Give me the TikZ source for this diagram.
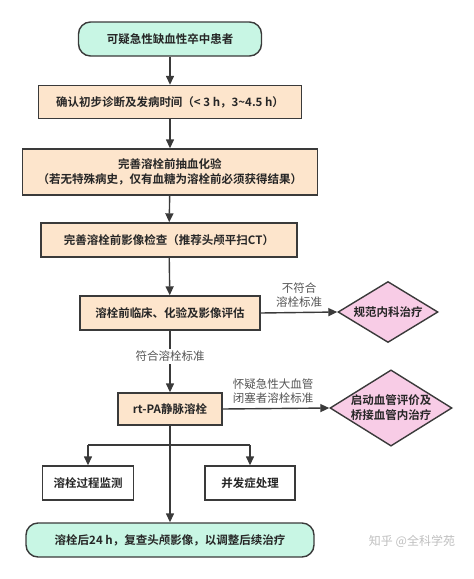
\documentclass[tikz,border=0pt]{standalone}
\usepackage{fontspec}
\setmainfont{Noto Sans CJK SC}
\newfontfamily\cjkb{Noto Sans CJK SC Bold}
\usetikzlibrary{shapes.geometric,arrows.meta}
\definecolor{peach}{HTML}{FDE5CC}
\definecolor{mint}{HTML}{C8F6E4}
\definecolor{pinkd}{HTML}{F8CCE6}
\definecolor{edgec}{HTML}{3A3A3A}
\definecolor{lblc}{HTML}{555555}
\begin{document}
\begin{tikzpicture}[x=1pt,y=-1pt,
  base/.style={draw=edgec,line width=1.4pt,font=\cjkb\fontsize{11.5}{15}\selectfont,text=black!85,align=center,inner sep=0pt},
  startbox/.style={base,fill=mint,rounded corners=12pt},
  procbox/.style={base,fill=peach},
  whitebox/.style={base,fill=white},
  decide/.style={base,fill=pinkd,diamond,aspect=1.6},
  arr/.style={draw=edgec,line width=1.4pt,-{Triangle[length=9pt,width=8pt]}},
  plain/.style={draw=edgec,line width=1.4pt},
  lbl/.style={font=\fontsize{11.5}{14}\selectfont,text=lblc,align=center,inner sep=1pt}]
\useasboundingbox (0,0) rectangle (474,579);
\node[startbox,minimum width=183pt,minimum height=34pt] (n1) at (170,39) {可疑急性缺血性卒中患者};
\node[procbox,minimum width=263pt,minimum height=33pt] (n2) at (170,102) {确认初步诊断及发病时间（< 3 h，3\textasciitilde4.5 h）};
\node[procbox,minimum width=295pt,minimum height=46pt] (n3) at (170,172) {完善溶栓前抽血化验\\（若无特殊病史，仅有血糖为溶栓前必须获得结果）};
\node[procbox,minimum width=256pt,minimum height=34pt] (n4) at (169,240) {完善溶栓前影像检查（推荐头颅平扫CT）};
\node[procbox,minimum width=180pt,minimum height=34pt] (n5) at (170,313) {溶栓前临床、化验及影像评估};
\node[decide,minimum width=100pt,minimum height=61pt] (d1) at (388,312) {规范内科治疗};
\node[procbox,minimum width=104pt,minimum height=32pt] (n6) at (170,409) {rt-PA静脉溶栓};
\node[decide,minimum width=122pt,minimum height=76pt] (d2) at (391,408) {启动血管评价及\\桥接血管内治疗};
\node[whitebox,minimum width=91pt,minimum height=34pt] (n7) at (88,483) {溶栓过程监测};
\node[whitebox,minimum width=90pt,minimum height=34pt] (n8) at (250,483) {并发症处理};
\node[startbox,minimum width=288pt,minimum height=34pt] (n9) at (170,540) {溶栓后24 h，复查头颅影像，以调整后续治疗};
\coordinate (bl) at (88,445);
\coordinate (bR) at (250,445);
\draw[arr] (n1) -- (n2);
\draw[arr] (n2) -- (n3);
\draw[arr] (n3) -- (n4);
\draw[arr] (n4) -- (n5);
\draw[arr] (n5.east) -- (d1.west) node[lbl,midway,above=3pt] {不符合\\溶栓标准};
\draw[arr] (n5) -- node[lbl,fill=white,pos=0.42,inner sep=2pt] {符合溶栓标准} (n6);
\draw[arr] (n6.east) -- (d2.west) node[lbl,midway,above=3pt,xshift=-3pt] {怀疑急性大血管\\闭塞者溶栓标准};
\draw[arr] (n6) -- (n9);
\draw[plain] (bl) -- (bR);
\draw[arr] (bl) -- (n7);
\draw[arr] (bR) -- (n8);
\node[font=\fontsize{12}{14}\selectfont,text=black!25] (wm) at (412,541) {知乎 @全科学苑};
\end{tikzpicture}
\end{document}
